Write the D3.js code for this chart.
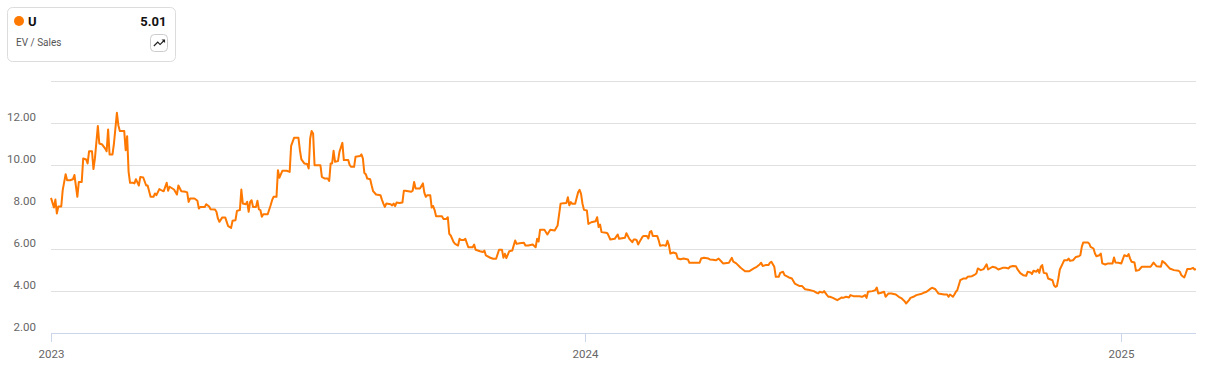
<!DOCTYPE html>
<html>
<head>
<meta charset="utf-8">
<script src="https://cdn.jsdelivr.net/npm/d3@7"></script>
<style>
    body { margin: 0; background: #fff; font-family: Roboto, "Noto Sans", Arial, sans-serif; }
</style>
</head>
<body>
<div id="chart"></div>
<script>
// series meta
const ticker = "U";
const metricName = "EV / Sales";
const lastValue = "5.01";

// days since 2023-01-01 and EV / Sales value
const startDate = "2023-01-01";
const dayOffsets = [
    0, 2, 3, 4, 5, 7, 8, 10, 11, 13, 15, 16, 18, 19, 21, 22, 24, 25, 26, 28, 29, 30, 32, 33, 35, 37, 38, 39, 40, 42,
    43, 45, 46, 47, 50, 51, 52, 53, 54, 56, 57, 58, 60, 61, 63, 65, 66, 68, 70, 71, 72, 74, 76, 77, 79, 80, 81, 84, 86, 87,
    89, 92, 93, 94, 95, 98, 100, 101, 102, 105, 106, 108, 109, 112, 113, 114, 115, 117, 119, 120, 121, 123, 124, 126, 127, 129, 130, 131, 133,
    134, 135, 136, 137, 138, 140, 141, 142, 143, 144, 145, 148, 150, 151, 152, 154, 155, 156, 158, 161, 163, 164, 166, 169, 170,
    171, 173, 175, 176, 177, 178, 179, 180, 184, 185, 187, 189, 190, 191, 192, 193, 194, 196, 197, 199, 200, 203, 204, 205, 207,
    208, 211, 212, 213, 214, 215, 216, 218, 219, 220, 222, 225, 226, 227, 228, 229, 232, 233, 234, 235, 236, 238, 240, 241, 242,
    246, 247, 248, 249, 252, 254, 255, 256, 257, 259, 260, 261, 262, 263,
    267, 268, 270, 271, 272, 273, 275, 276, 278, 279, 280, 282, 283, 285, 288, 289, 290, 293, 295, 296, 297, 300, 302, 304, 306,
    308, 309, 310, 311, 313, 315, 317, 318, 320, 323, 324, 326, 329, 331, 332, 333, 334, 337, 339, 341, 344, 346, 348, 350, 352,
    353, 354, 355, 356, 358, 360, 361, 362, 363, 364, 366, 367, 369, 372, 373, 374, 375, 376, 379, 380, 382, 385, 387, 388, 392,
    393, 395, 397, 398, 399,
    400, 401, 402, 404, 405, 407, 408, 409, 410, 411, 414, 415, 416, 418, 420, 421, 422, 423, 425, 427, 428, 430, 432, 435, 436,
    441, 443, 444, 446, 449, 450, 452, 454, 456, 458, 459, 463, 465, 466, 468, 471, 474, 477, 480, 482, 484, 485, 486, 488, 490,
    491, 492, 494, 495, 497, 498, 500, 501, 504, 506, 508, 511, 513, 515, 518, 521, 523, 524, 525, 527, 528, 530, 531, 532,
    534, 537, 539, 540, 541, 543, 545, 546, 548, 552, 554, 556, 557, 558, 561, 563, 564, 565, 567, 569, 570, 572, 574, 577, 579,
    581, 583, 584, 586, 587, 589, 591, 594, 596, 598, 601, 602, 604, 606, 610, 612, 613, 614, 616, 617, 618, 619, 621, 623, 625,
    626, 629, 631, 632, 633, 635, 637, 639, 640, 643, 645, 647, 650, 652, 654, 655, 657, 659, 660, 662, 664, 666,
    667, 669, 670, 671, 673, 674, 675, 676, 677, 678, 680, 681, 684, 685, 686, 687, 688, 689, 691, 692, 694, 695, 696, 698, 700,
    702, 703, 704, 705, 708, 709, 710, 712, 713, 714, 716, 717, 718, 720, 722, 725, 726, 727, 729, 731, 733, 735, 736, 737, 738,
    740, 741, 743, 745, 751, 753, 754, 755, 758, 759, 761, 762, 764, 767, 770, 771, 772, 774, 775, 776, 778, 780, 781, 782
];
const evSales = [
    8.41, 7.95, 8.33, 7.67, 8.0, 8.0, 8.78, 9.54, 9.25, 9.25, 9.3, 9.5, 8.46, 9.17, 9.17, 10.29, 10.24, 10.05, 10.63, 10.63, 9.78, 10.29, 11.83, 11.0, 10.95, 10.76, 10.63, 11.67, 10.48, 10.48,
    11.0, 12.46, 11.87, 11.6, 11.6, 10.68, 11.35, 9.65, 9.13, 9.13, 9.1, 9.3, 9.0, 9.41, 9.38, 9.0, 9.0, 8.46, 8.46, 8.62, 8.54, 8.83, 8.75, 8.73, 9.13, 8.75, 8.94, 8.81, 8.57, 9.0,
    8.73, 8.7, 8.67, 8.22, 8.38, 8.38, 8.27, 7.9, 7.98, 7.98, 8.11, 8.0, 7.87, 7.86, 7.75, 7.43, 7.27, 7.48, 7.48, 7.27, 7.06, 6.98, 7.32, 7.35, 7.79, 7.83, 8.81, 8.14, 8.11,
    8.22, 7.75, 8.22, 8.3, 7.98, 7.98, 8.27, 7.86, 7.83, 7.51, 7.63, 7.63, 8.06, 8.3, 8.46, 8.46, 9.73, 9.37, 9.7, 9.7, 9.65, 10.89, 11.27, 11.27, 10.68,
    10.24, 10.05, 10.02, 9.81, 11.24, 11.6, 11.48, 9.97, 9.97, 9.41, 9.33, 9.33, 9.22, 10.05, 10.05, 10.65, 10.13, 10.16, 10.6, 11.03, 10.21, 10.21, 9.97, 9.89, 9.89,
    10.37, 10.4, 10.48, 10.29, 9.6, 9.54, 9.33, 9.3, 9.0, 8.73, 8.57, 8.54, 8.33, 8.14, 7.98, 8.14, 8.11, 8.05, 8.14, 8.02, 8.19, 8.17, 8.19, 8.75, 8.75,
    8.7, 8.75, 9.17, 8.86, 8.86, 9.1, 8.65, 8.46, 8.54, 8.54, 7.95, 8.02, 7.83, 7.54,
    7.54, 7.41, 7.41, 7.49, 6.7, 6.62, 6.3, 6.22, 6.14, 6.46, 6.41, 6.41, 6.46, 6.06, 6.06, 6.19, 5.94, 5.87, 5.83, 5.9, 5.67, 5.56, 5.51, 5.51, 5.94,
    5.94, 5.56, 5.75, 5.54, 5.87, 5.9, 6.38, 6.22, 6.25, 6.27, 6.14, 6.14, 6.19, 6.06, 6.46, 6.33, 6.89, 6.89, 6.67, 6.89, 6.86, 7.1, 8.13, 8.16, 8.17,
    8.44, 8.06, 8.21, 8.13, 8.13, 8.68, 8.79, 8.6, 8.13, 7.84, 7.81, 7.17, 7.25, 7.3, 7.49, 7.02, 7.14, 6.78, 6.75, 6.73, 6.43, 6.46, 6.67, 6.46, 6.51,
    6.73, 6.46, 6.3, 6.43, 6.43,
    6.4, 6.19, 6.32, 6.56, 6.6, 6.6, 6.48, 6.79, 6.83, 6.6, 6.6, 6.4, 6.13, 6.16, 6.13, 6.37, 6.16, 5.76, 5.81, 5.76, 5.52, 5.49, 5.52, 5.48, 5.32,
    5.32, 5.32, 5.52, 5.56, 5.52, 5.48, 5.46, 5.44, 5.52, 5.37, 5.29, 5.32, 5.56, 5.37, 5.29, 5.08, 4.92, 4.92, 5.05, 5.13, 5.24, 5.32, 5.17, 5.21, 5.21,
    5.32, 5.37, 5.13, 4.65, 4.65, 4.84, 4.89, 4.73, 4.62, 4.57, 4.33, 4.22, 4.21, 4.06, 4.02, 3.97, 3.89, 3.86, 3.94, 3.9, 3.97, 3.78, 3.7, 3.7,
    3.65, 3.54, 3.62, 3.67, 3.65, 3.7, 3.67, 3.78, 3.73, 3.73, 3.7, 3.78, 3.65, 3.94, 3.97, 4.02, 4.14, 3.86, 3.89, 3.94, 3.7, 3.86, 3.86, 3.81, 3.7,
    3.62, 3.49, 3.38, 3.54, 3.65, 3.7, 3.78, 3.83, 3.89, 3.94, 4.1, 4.13, 4.06, 3.86, 3.81, 3.81, 3.7, 3.81, 3.7, 3.81, 3.94, 4.02, 4.49, 4.57, 4.57,
    4.65, 4.68, 4.76, 4.81, 5.05, 4.97, 5.02, 5.25, 5.0, 5.13, 5.1, 5.0, 5.08, 5.08, 5.05, 5.13, 5.17, 5.16, 5.02, 4.83, 4.73, 4.7,
    4.89, 4.86, 4.78, 4.94, 4.89, 5.0, 4.84, 5.13, 5.21, 4.84, 4.81, 4.57, 4.49, 4.25, 4.17, 4.21, 4.57, 5.0, 5.29, 5.44, 5.44, 5.52, 5.41, 5.44, 5.6,
    5.63, 5.68, 6.08, 6.29, 6.29, 6.24, 6.08, 6.0, 5.76, 5.63, 5.68, 5.76, 5.29, 5.24, 5.29, 5.29, 5.57, 5.33, 5.32, 5.29, 5.68, 5.63, 5.73, 5.52, 5.37,
    5.33, 4.94, 4.97, 5.13, 5.13, 5.33, 5.24, 5.16, 5.13, 5.4, 5.29, 5.21, 5.05, 4.97, 4.94, 4.89, 4.73, 4.62, 4.81, 5.02, 5.02, 5.08, 5.0, 5.01
];

// axis ticks
const yTicks = [2, 4, 6, 8, 10, 12, 14];
const yLabelMax = 12;
const xTickDates = ["2023-01-01", "2024-01-01", "2025-01-01"];

const width = 1206, height = 367;
const parseDate = d3.timeParse("%Y-%m-%d");
const start = parseDate(startDate);

// build points
const data = dayOffsets.map((d, i) => ({date: d3.timeDay.offset(start, d), value: evSales[i]}));

const svg = d3.select("#chart").append("svg")
    .attr("width", width)
    .attr("height", height)
    .style("display", "block");

// scales
const x = d3.scaleTime()
    .domain([start, d3.timeDay.offset(start, d3.max(dayOffsets))])
    .range([51, 1196]);

const y = d3.scaleLinear()
    .domain([2, 14])
    .range([332.5, 80.5]);

// horizontal gridlines
svg.append("g")
    .selectAll("line")
    .data(yTicks)
    .enter().append("line")
    .attr("x1", 51)
    .attr("x2", 1196)
    .attr("y1", d => Math.round(y(d)) + 0.5)
    .attr("y2", d => Math.round(y(d)) + 0.5)
    .attr("stroke", d => d === 2 ? "#ccd6eb" : "#e0e0e0")
    .attr("stroke-width", 1);

// y labels
svg.append("g")
    .selectAll("text")
    .data(yTicks.filter(d => d <= yLabelMax))
    .enter().append("text")
    .attr("x", 36)
    .attr("y", d => y(d) - 1.5)
    .attr("text-anchor", "end")
    .style("font-size", "11.5px")
    .style("fill", "#666")
    .text(d => d3.format(".2f")(d));

// x axis ticks + labels
const xAxis = svg.append("g").selectAll("g")
    .data(xTickDates.map(parseDate))
    .enter().append("g")
    .attr("transform", d => `translate(${Math.round(x(d)) + 0.5},0)`);

xAxis.append("line")
    .attr("y1", 333)
    .attr("y2", 342)
    .attr("stroke", "#ccd6eb");

xAxis.append("text")
    .attr("y", 358)
    .attr("text-anchor", "middle")
    .style("font-size", "11.5px")
    .style("fill", "#666")
    .text(d => d3.timeFormat("%Y")(d));

// the line
const line = d3.line()
    .x(d => x(d.date))
    .y(d => y(d.value));

svg.append("path")
    .datum(data)
    .attr("fill", "none")
    .attr("stroke", "#ff7800")
    .attr("stroke-width", 2)
    .attr("stroke-linejoin", "round")
    .attr("d", line);

// legend card
const legend = svg.append("g").attr("class", "legend");

legend.append("rect")
    .attr("x", 7.5)
    .attr("y", 7.5)
    .attr("width", 168)
    .attr("height", 54)
    .attr("rx", 5)
    .attr("fill", "#fff")
    .attr("stroke", "#dcdcdc");

legend.append("circle")
    .attr("cx", 19)
    .attr("cy", 21)
    .attr("r", 5)
    .attr("fill", "#ff7800");

legend.append("text")
    .attr("x", 28)
    .attr("y", 25.5)
    .style("font-size", "13px")
    .style("font-weight", "bold")
    .style("fill", "#111")
    .text(ticker);

legend.append("text")
    .attr("x", 166.5)
    .attr("y", 25.5)
    .attr("text-anchor", "end")
    .style("font-size", "13px")
    .style("font-weight", "bold")
    .style("fill", "#111")
    .text(lastValue);

legend.append("text")
    .attr("x", 16)
    .attr("y", 45.5)
    .style("font-size", "10px")
    .style("fill", "#555")
    .text(metricName);

// small trend button
const btn = legend.append("g").attr("transform", "translate(150.5,34.5)");
btn.append("rect")
    .attr("width", 17)
    .attr("height", 17)
    .attr("rx", 4)
    .attr("fill", "#fff")
    .attr("stroke", "#ccc");
btn.append("path")
    .attr("transform", "translate(1.8,1.5) scale(0.58)")
    .attr("d", "M16 6l2.29 2.29-4.88 4.88-4-4L2 16.59 3.41 18l6-6 4 4 6.3-6.29L22 12V6z")
    .attr("fill", "#222");
</script>
</body>
</html>
